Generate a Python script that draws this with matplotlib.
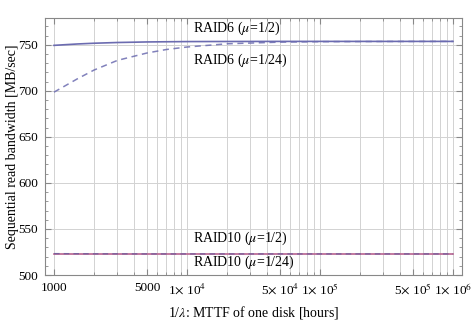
import numpy as np
import matplotlib
matplotlib.use("Agg")
import matplotlib.pyplot as plt
from matplotlib.ticker import FixedLocator, NullFormatter, MultipleLocator

plt.rcParams['font.family'] = ['Liberation Serif', 'DejaVu Serif']
plt.rcParams['mathtext.fontset'] = 'stix'

# MTTF of one disk [hours]
mttf = [1000, 1500, 2000, 3000, 5000, 7000, 10000, 20000, 50000, 100000, 300000, 1000000]

# sequential read bandwidth [MB/sec]
raid6_mu2 = [749.3, 750.8, 751.6, 752.4, 753.0, 753.2, 753.4, 753.5, 753.6, 753.6, 753.6, 753.6]
raid6_mu24 = [698.5, 713.0, 722.5, 733.0, 741.0, 744.8, 747.5, 751.0, 752.8, 753.3, 753.5, 753.6]
raid10_mu2 = [522.9] * len(mttf)
raid10_mu24 = [523.2, 523.1, 523.0, 523.0, 522.9, 522.9, 522.9, 522.9, 522.9, 522.9, 522.9, 522.9]

xticks = [1000, 5000, 1e4, 5e4, 1e5, 5e5, 1e6]
xticklabels = ['1000', '5000', r'1$\times$ 10$^{4}$', r'5$\times$ 10$^{4}$',
               r'1$\times$ 10$^{5}$', r'5$\times$ 10$^{5}$', r'1$\times$ 10$^{6}$']

fig = plt.figure(figsize=(4.74, 3.27), dpi=100)
ax = fig.add_axes([45 / 474, 1 - 275 / 327, 417 / 474, 257 / 327])

ax.set_xscale('log')
ax.set_xlim(10 ** (3 - 9 / 133), 10 ** (6 + 9 / 133))
ax.set_ylim(500, 779)

# grid at every log position and every 50 on y
grid_x = [m * 10 ** e for e in range(3, 6) for m in range(1, 10)] + [1e6]
for gx in grid_x:
    ax.axvline(gx, color='#d2d2d2', lw=0.7, zorder=0)
for gy in range(550, 751, 50):
    ax.axhline(gy, color='#d2d2d2', lw=0.7, zorder=0)

blue = '#6b6bb0'
pink = '#b8628f'
purple = '#6a5a9c'
ax.plot(mttf, raid6_mu2, color=blue, lw=1.2)
ax.plot(mttf, raid6_mu24, color=blue, lw=1.1, ls=(0, (4, 3)), alpha=0.85)
ax.plot(mttf, raid10_mu2, color=pink, lw=1.2)
ax.plot(mttf, raid10_mu24, color=purple, lw=1.0, ls=(0, (4, 3)), alpha=0.8)

fs = 10
ax.text(1.1e4, 767.5, r'RAID6 ($\mu$=1/2)', fontsize=fs, va='center')
ax.text(1.1e4, 733, r'RAID6 ($\mu$=1/24)', fontsize=fs, va='center')
ax.text(1.1e4, 540, r'RAID10 ($\mu$=1/2)', fontsize=fs, va='center')
ax.text(1.1e4, 514, r'RAID10 ($\mu$=1/24)', fontsize=fs, va='center')

ax.xaxis.set_major_locator(FixedLocator(xticks))
ax.set_xticklabels(xticklabels)
ax.xaxis.set_minor_locator(FixedLocator(grid_x))
ax.xaxis.set_minor_formatter(NullFormatter())
ax.yaxis.set_major_locator(MultipleLocator(50))
ax.yaxis.set_minor_locator(MultipleLocator(10))

ax.tick_params(which='both', direction='in', top=True, right=True,
               color='#888888', labelsize=9.5)
ax.tick_params(axis='x', pad=5)
ax.tick_params(axis='y', pad=5, labelright=False)
ax.tick_params(which='major', length=4)
ax.tick_params(which='minor', length=2)
for s in ax.spines.values():
    s.set_color('#888888')
    s.set_linewidth(0.8)

ax.set_xlabel(r'1/$\lambda$: MTTF of one disk [hours]', fontsize=10, labelpad=5)
ax.set_ylabel('Sequential read bandwidth [MB/sec]', fontsize=10)
ax.yaxis.set_label_coords(-0.062, 0.5)

fig.savefig('out.png', dpi=100)
